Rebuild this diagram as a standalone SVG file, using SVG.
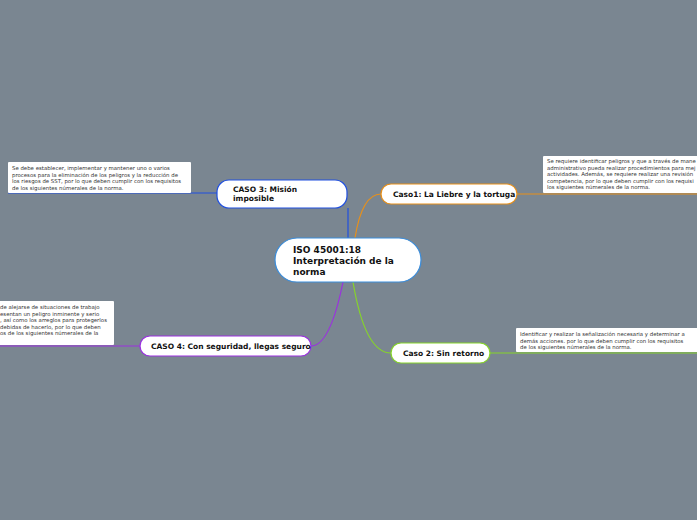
<svg xmlns="http://www.w3.org/2000/svg" width="697" height="520" viewBox="0 0 697 520">
<style>
.n{fill:#fff;stroke-width:1.2}
.t{font-family:"DejaVu Sans",Verdana,sans-serif;font-weight:bold;font-size:7.5px;fill:#111}
.c{font-family:"DejaVu Sans",Verdana,sans-serif;font-weight:bold;font-size:9px;fill:#111}
.s{font-family:"DejaVu Sans",Verdana,sans-serif;font-size:5.4px;fill:#333}
.b{fill:#fff}
.l{fill:none;stroke-width:1.2}
</style>
<rect width="697" height="520" fill="#7a8691"/>
<g id="connectors">
<path class="l" stroke="#1f4fe0" d="M348 238 V208"/>
<path class="l" stroke="#1f4fe0" d="M217 193 H8"/>
<path class="l" stroke="#e8901a" d="M355 238 Q362 194 381 194"/>
<path class="l" stroke="#e8901a" d="M517 194 H697"/>
<path class="l" stroke="#86d42a" d="M353 282 Q365 353 391 353"/>
<path class="l" stroke="#86d42a" d="M490 353 H697"/>
<path class="l" stroke="#9b30e0" d="M343 282 Q330 346 311 346"/>
<path class="l" stroke="#9b30e0" d="M140 346 H0"/>
</g>
<g id="center">
<rect class="n" stroke="#3b8ddb" x="275" y="238" width="146" height="44" rx="22"/>
<text class="c" x="293" y="253">ISO 45001:18</text>
<text class="c" x="293" y="264">Interpretación de la</text>
<text class="c" x="293" y="275">norma</text>
</g>
<g id="caso3">
<rect class="n" stroke="#1f4fe0" x="217" y="180" width="130" height="28" rx="12"/>
<text class="t" x="233" y="192">CASO 3: Misión</text>
<text class="t" x="233" y="201">imposible</text>
</g>
<g id="note3">
<rect class="b" x="8" y="162" width="183" height="31" rx="1"/>
<text class="s" x="12" y="170">Se debe establecer, implementar y mantener uno o varios</text>
<text class="s" x="12" y="176.5">procesos para la eliminación de los peligros y la reducción de</text>
<text class="s" x="12" y="183">los riesgos de SST, por lo que deben cumplir con los requisitos</text>
<text class="s" x="12" y="189.5">de los siguientes númerales de la norma.</text>
</g>
<g id="caso1">
<rect class="n" stroke="#e8901a" x="381" y="184" width="136" height="20" rx="10"/>
<text class="t" x="393" y="197">Caso1: La Liebre y la tortuga</text>
</g>
<g id="note1">
<rect class="b" x="543" y="156" width="160" height="37" rx="1"/>
<text class="s" x="547" y="163">Se requiere identificar peligros y que a través de mane</text>
<text class="s" x="547" y="169.5">administrativo pueda realizar procedimientos para mej</text>
<text class="s" x="547" y="176">actividades. Además, se requiere realizar una revisión</text>
<text class="s" x="547" y="182.5">competencia, por lo que deben cumplir con los requisi</text>
<text class="s" x="547" y="189">los siguientes númerales de la norma.</text>
</g>
<g id="caso2">
<rect class="n" stroke="#86d42a" x="391" y="343" width="99" height="20" rx="10"/>
<text class="t" x="403" y="356">Caso 2: Sin retorno</text>
</g>
<g id="note2">
<rect class="b" x="516" y="328" width="185" height="24" rx="1"/>
<text class="s" x="520" y="336">Identificar y realizar la señalización necesaria y determinar a</text>
<text class="s" x="520" y="342.5">demás acciones. por lo que deben cumplir con los requisitos</text>
<text class="s" x="520" y="349">de los siguientes númerales de la norma.</text>
</g>
<g id="caso4">
<rect class="n" stroke="#9b30e0" x="140" y="336" width="171" height="20" rx="10"/>
<text class="t" x="151" y="349">CASO 4: Con seguridad, llegas seguro</text>
</g>
<g id="note4">
<rect class="b" x="-5" y="301" width="119" height="44" rx="1"/>
<text class="s" x="0" y="309">de alejarse de situaciones de trabajo</text>
<text class="s" x="0" y="315.5">esentan un peligro inminente y serio</text>
<text class="s" x="0" y="322">, así como los arreglos para protegerlos</text>
<text class="s" x="0" y="328.5">debidas de hacerlo, por lo que deben</text>
<text class="s" x="0" y="335">os de los siguientes númerales de la</text>
</g>
</svg>
